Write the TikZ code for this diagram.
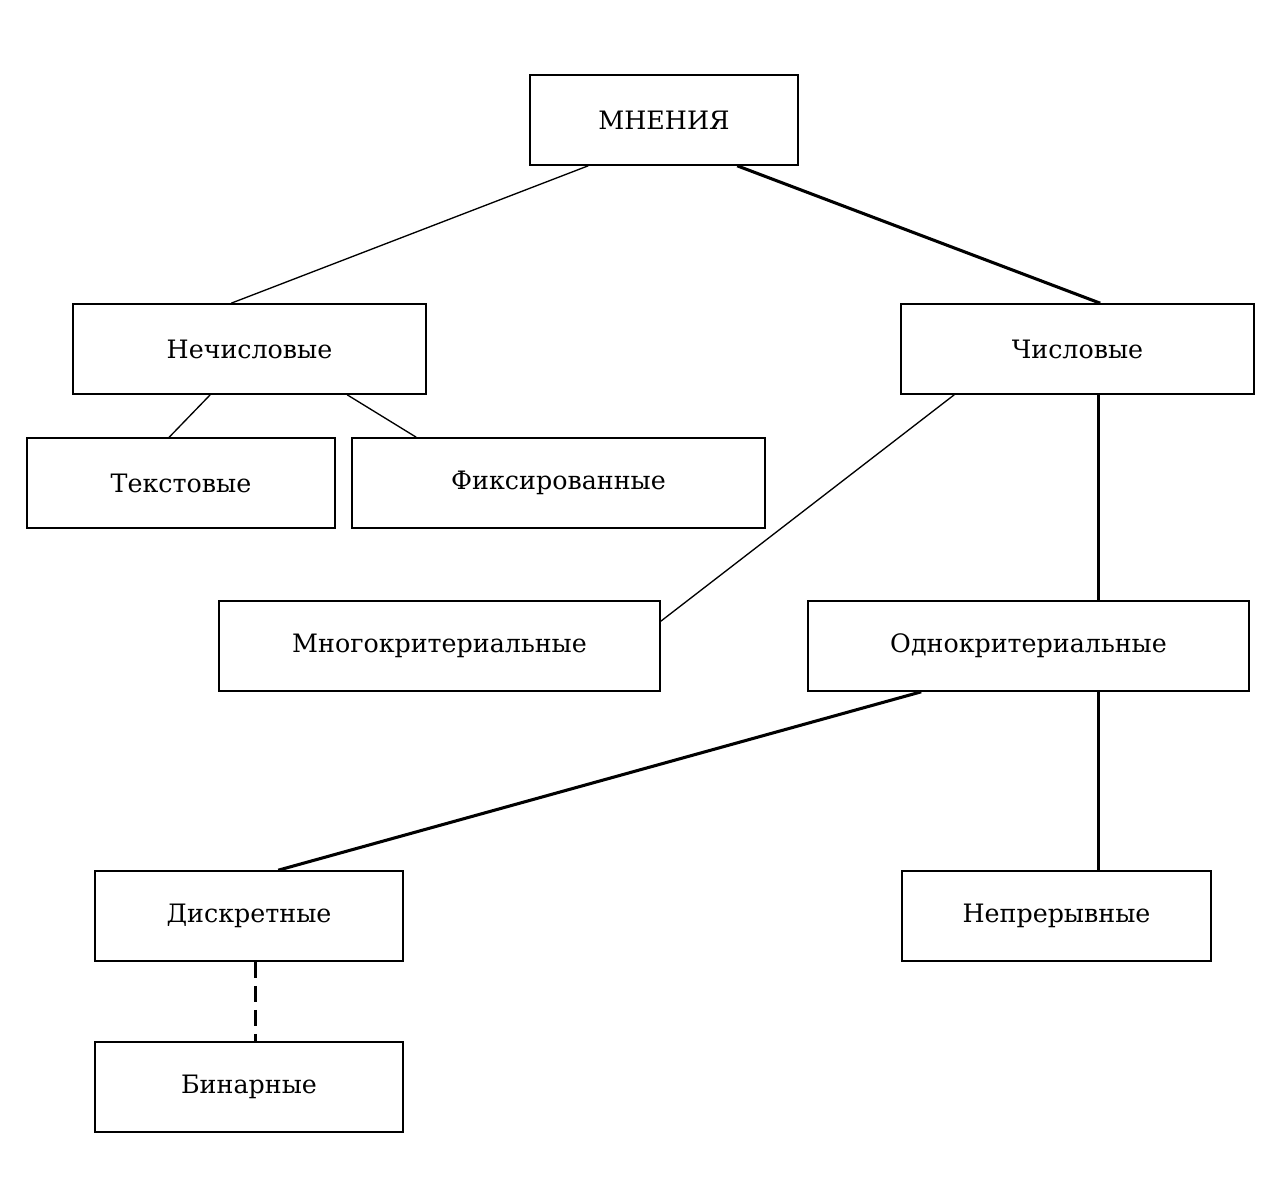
\documentclass[tikz,border=0pt]{standalone}
\usepackage{fontspec}
\setmainfont{DejaVu Serif}
\begin{document}
\begin{tikzpicture}[x=0.75pt,y=-0.75pt,
  box/.style={draw,line width=1.2pt,rectangle,inner sep=0pt,minimum height=67.5pt,font=\fontsize{19}{22}\selectfont},
  thin/.style={line width=1pt},
  thick/.style={line width=2.3pt}]
\useasboundingbox (0,0) rectangle (1287,1178);
\node[box,minimum width=201pt] (m) at (664,120) {МНЕНИЯ};
\node[box,minimum width=264.75pt] (n) at (249.5,349) {Нечисловые};
\node[box,minimum width=264.75pt] (c) at (1077.5,349) {Числовые};
\node[box,minimum width=231pt] (t) at (181,483) {Текстовые};
\node[box,minimum width=309.75pt] (f) at (558.5,483) {Фиксированные};
\node[box,minimum width=330.75pt] (mk) at (439.5,646) {Многокритериальные};
\node[box,minimum width=330.75pt] (ok) at (1028.5,646) {Однокритериальные};
\node[box,minimum width=231pt] (d) at (249,916) {Дискретные};
\node[box,minimum width=231.75pt] (np) at (1056.5,916) {Непрерывные};
\node[box,minimum width=231pt] (b) at (249,1087) {Бинарные};
\draw[thin] ([xshift=44.25pt]m.south west) -- ([xshift=119.25pt]n.north west);
\draw[thick] ([xshift=156pt]m.south west) -- ([xshift=150pt]c.north west);
\draw[thin] ([xshift=103.5pt]n.south west) -- ([xshift=107.25pt]t.north west);
\draw[thin] ([xshift=206.25pt]n.south west) -- ([xshift=48.75pt]f.north west);
\draw[thin] ([xshift=40.5pt]c.south west) -- ([yshift=-15.75pt]mk.north east);
\draw[thick] ([xshift=148.5pt]c.south west) -- ([xshift=218.25pt]ok.north west);
\draw[thick] ([xshift=85.5pt]ok.south west) -- ([xshift=138pt]d.north west);
\draw[thick] ([xshift=218.25pt]ok.south west) -- ([xshift=147.75pt]np.north west);
\draw[line width=2pt,dash pattern=on 12pt off 6pt] ([xshift=120.75pt]d.south west) -- ([xshift=120.75pt]b.north west);
\end{tikzpicture}
\end{document}
